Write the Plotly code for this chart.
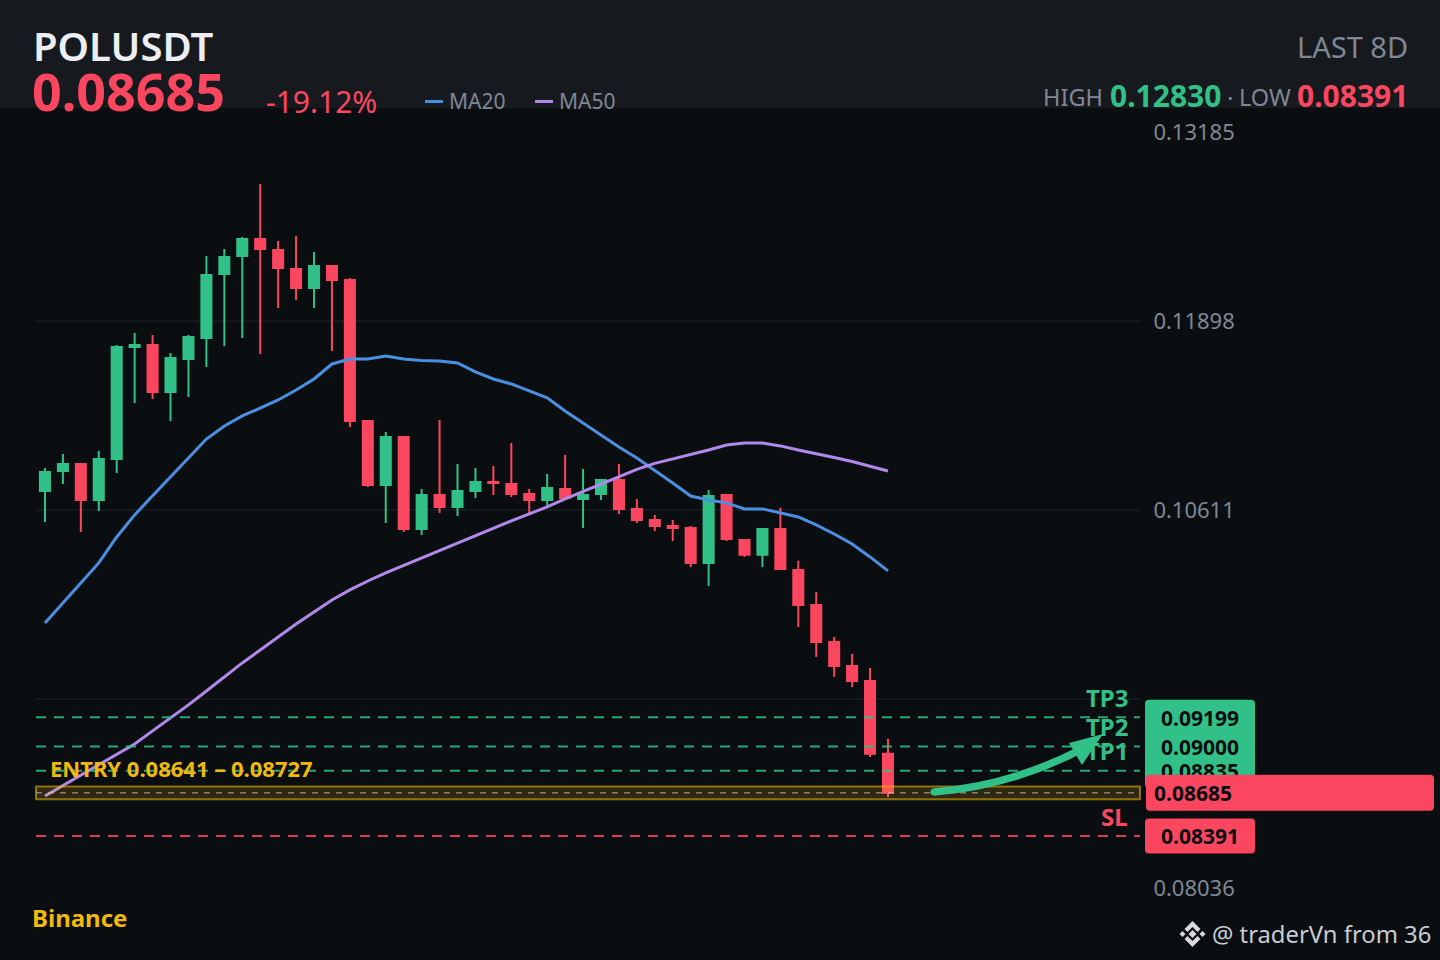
import plotly.graph_objects as go

# candle data
candle_index = list(range(48))
opens = [.10740, .10876, .10924, .10679, .10958, .11721, .11734, .11414, .11639, .11782,
         .12218, .12341, .12456, .12381, .12252, .12123, .12273, .12177, .11217, .10781,
         .11108, .10481, .10713, .10631, .10740, .10801, .10788, .10720, .10679, .10754,
         .10686, .10720, .10815, .10618, .10543, .10502, .10488, .10250, .10713, .10407,
         .10305, .10481, .10202, .09964, .09712, .09548, .09446, .08950]
highs = [.10897, .10992, .10931, .11013, .11734, .11816, .11803, .11680, .11803, .12341,
         .12388, .12470, .12830, .12443, .12477, .12368, .12279, .12191, .11224, .11142,
         .11110, .10754, .11224, .10924, .10897, .10910, .11067, .10754, .10856, .10985,
         .10890, .10822, .10924, .10686, .10577, .10543, .10502, .10747, .10720, .10413,
         .10488, .10625, .10264, .10052, .09746, .09630, .09534, .09051]
lows = [.10529, .10788, .10461, .10604, .10863, .11340, .11367, .11217, .11380, .11585,
        .11728, .11782, .11673, .11986, .12041, .11986, .11694, .11176, .10768, .10522,
        .10461, .10441, .10590, .10570, .10692, .10713, .10699, .10590, .10638, .10686,
        .10488, .10679, .10584, .10522, .10468, .10400, .10223, .10093, .10400, .10291,
        .10223, .10202, .09814, .09610, .09474, .09405, .08929, .08656]
closes = [.10870, .10924, .10679, .10958, .11721, .11734, .11414, .11646, .11789, .12211,
          .12334, .12456, .12388, .12259, .12123, .12273, .12177, .11217, .10781, .11108,
          .10481, .10713, .10631, .10740, .10801, .10795, .10720, .10679, .10761, .10692,
          .10713, .10815, .10618, .10543, .10502, .10488, .10250, .10706, .10413, .10305,
          .10481, .10209, .09964, .09712, .09548, .09446, .08950, .08685]
ma20 = [.09841, .09977, .10107, .10250, .10427, .10577, .10707, .10836, .10965, .11094,
        .11183, .11251, .11305, .11360, .11428, .11503, .11605, .11639, .11639, .11660,
        .11639, .11629, .11625, .11612, .11551, .11503, .11469, .11421, .11374, .11285,
        .11203, .11122, .11040, .10965, .10883, .10795, .10706, .10679, .10659, .10618,
        .10618, .10590, .10563, .10509, .10447, .10379, .10291, .10196]
ma50 = [.08663, .08734, .08806, .08874, .08946, .09017, .09106, .09194, .09283, .09378,
        .09474, .09569, .09657, .09746, .09834, .09916, .09998, .10066, .10127, .10182,
        .10233, .10284, .10335, .10386, .10434, .10485, .10536, .10584, .10631, .10686,
        .10737, .10788, .10836, .10887, .10928, .10958, .10985, .11019, .11053, .11067,
        .11067, .11047, .11019, .10995, .10968, .10941, .10910, .10876]

tick_vals = [.13185, .11898, .10611, .09324, .08036]
tick_text = ["0.13185", "0.11898", "0.10611", "", "0.08036"]
tp_levels = [.09199, .09000, .08835]
tp_names = ["TP3", "TP2", "TP1"]
tp_label_y = [697.5, 726.5, 750.5]
sl_level = .08391
entry_low, entry_high = .08641, .08727
last_price = .08685

W, H = 1440, 960
GREEN = "#31c087"
RED = "#fb4660"
YELLOW = "#f0b90b"
GRAY = "#7f8794"
BG = "#0b0e11"
HEADER = "#161a1f"
FONT = "Noto Sans"
PLOT_L, PLOT_R, PLOT_T, PLOT_B = 36, 1140, 132, 888


def fx(x):
    return x / W


def fy(y):
    return 1 - y / H


def price_y(p):
    return PLOT_T + (tick_vals[0] - p) / (tick_vals[0] - tick_vals[-1]) * (PLOT_B - PLOT_T)


def rounded(x0, x1, y0, y1, r=4):
    pts = [
        f"M {fx(x0 + r)} {fy(y0)}", f"L {fx(x1 - r)} {fy(y0)}",
        f"Q {fx(x1)} {fy(y0)} {fx(x1)} {fy(y0 + r)}", f"L {fx(x1)} {fy(y1 - r)}",
        f"Q {fx(x1)} {fy(y1)} {fx(x1 - r)} {fy(y1)}", f"L {fx(x0 + r)} {fy(y1)}",
        f"Q {fx(x0)} {fy(y1)} {fx(x0)} {fy(y1 - r)}", f"L {fx(x0)} {fy(y0 + r)}",
        f"Q {fx(x0)} {fy(y0)} {fx(x0 + r)} {fy(y0)}", "Z",
        # empty sliver below the pill, nudges the label down a little
        f"M {fx(x0 + r)} {fy(y1)} L {fx(x0 + r)} {fy(y1 + 3)} Z",
    ]
    return " ".join(pts)


def poly(points, color):
    path = "M " + " L ".join(f"{fx(x)} {fy(y)}" for x, y in points) + " Z"
    return dict(type="path", xref="paper", yref="paper", path=path,
                fillcolor=color, line=dict(width=0), layer="above")


fig = go.Figure()
fig.add_trace(go.Candlestick(
    x=candle_index, open=opens, high=highs, low=lows, close=closes,
    increasing=dict(line=dict(color=GREEN, width=2), fillcolor=GREEN),
    decreasing=dict(line=dict(color=RED, width=2), fillcolor=RED),
    whiskerwidth=0, showlegend=False,
))
fig.add_trace(go.Scatter(x=candle_index, y=ma20, mode="lines", name="MA20",
                         line=dict(color="#4a90e2", width=3), showlegend=False))
fig.add_trace(go.Scatter(x=candle_index, y=ma50, mode="lines", name="MA50",
                         line=dict(color="#b388eb", width=3), showlegend=False))

shapes = [dict(type="rect", xref="paper", yref="paper", x0=0, x1=1, y0=fy(108), y1=1,
               fillcolor=HEADER, line=dict(width=0), layer="below")]

# entry band and last price
shapes.append(dict(type="rect", xref="paper", yref="y", x0=fx(PLOT_L), x1=fx(PLOT_R),
                   y0=entry_low, y1=entry_high, fillcolor="rgba(240,185,11,0.16)",
                   line=dict(color="rgba(240,185,11,0.55)", width=2), layer="above"))
shapes.append(dict(type="line", xref="paper", yref="y", x0=fx(PLOT_L), x1=fx(PLOT_R),
                   y0=last_price, y1=last_price, layer="above",
                   line=dict(color="rgba(200,200,200,0.55)", width=1.5, dash="6px,6px")))
for lvl in tp_levels:
    shapes.append(dict(type="line", xref="paper", yref="y", x0=fx(PLOT_L), x1=fx(PLOT_R),
                       y0=lvl, y1=lvl, layer="above",
                       line=dict(color="rgba(49,192,135,0.85)", width=2, dash="10px,8px")))
shapes.append(dict(type="line", xref="paper", yref="y", x0=fx(PLOT_L), x1=fx(PLOT_R),
                   y0=sl_level, y1=sl_level, layer="above",
                   line=dict(color="rgba(251,70,96,0.85)", width=2, dash="10px,8px")))


def pill(price, color, x0=1145, x1=1255, half=17.5, pos="middle center", pad=3):
    c = price_y(price)
    return dict(type="path", xref="paper", yref="paper", path=rounded(x0, x1, c - half, c + half),
                fillcolor=color, line=dict(width=0), layer="above",
                label=dict(text=f"{price:.5f}", textposition=pos, padding=pad,
                           font=dict(family=FONT, size=21, color=BG, weight=700)))


# lowest TP first so the higher pills sit on top of it
for lvl in reversed(tp_levels):
    shapes.append(pill(lvl, GREEN))
shapes.append(pill(sl_level, RED))
shapes.append(pill(last_price, RED, x0=1146, x1=1434, half=18, pos="middle left", pad=5))

# arrow
shapes.append(dict(type="path", xref="paper", yref="paper", layer="above",
                   path=f"M {fx(934)} {fy(792)} Q {fx(1010)} {fy(786)} {fx(1080)} {fy(750)}",
                   line=dict(color=GREEN, width=7.5)))
shapes.append(dict(type="circle", xref="paper", yref="paper", layer="above",
                   x0=fx(930.5), x1=fx(937.5), y0=fy(788.5), y1=fy(795.5),
                   fillcolor=GREEN, line=dict(width=0)))
shapes.append(poly([(1103, 734), (1069, 743), (1082, 765)], GREEN))

# legend swatches
shapes.append(dict(type="rect", xref="paper", yref="paper", x0=fx(425), x1=fx(443), y0=fy(103), y1=fy(100),
                   fillcolor="#4a90e2", line=dict(width=0)))
shapes.append(dict(type="rect", xref="paper", yref="paper", x0=fx(535), x1=fx(553), y0=fy(103), y1=fy(100),
                   fillcolor="#b388eb", line=dict(width=0)))

# binance mark
LOGO = "#d8dade"
cx, cy = 1192.5, 934
shapes.append(poly([(cx, cy - 4), (cx + 4, cy), (cx, cy + 4), (cx - 4, cy)], LOGO))
shapes.append(poly([(cx - 13, cy), (cx - 10, cy - 3), (cx - 7, cy), (cx - 10, cy + 3)], LOGO))
shapes.append(poly([(cx + 13, cy), (cx + 10, cy - 3), (cx + 7, cy), (cx + 10, cy + 3)], LOGO))
shapes.append(poly([(cx, cy - 13), (cx + 8, cy - 5), (cx + 5, cy - 2), (cx, cy - 7), (cx - 5, cy - 2), (cx - 8, cy - 5)], LOGO))
shapes.append(poly([(cx, cy + 13), (cx + 8, cy + 5), (cx + 5, cy + 2), (cx, cy + 7), (cx - 5, cy + 2), (cx - 8, cy + 5)], LOGO))


annotations = []


def text(x, y, s, size, color, anchor="left", weight=400):
    annotations.append(dict(xref="paper", yref="paper", x=fx(x), y=fy(y), text=s, showarrow=False,
                            xanchor=anchor, yanchor="middle", borderpad=0, borderwidth=0,
                            font=dict(family=FONT, size=size, color=color, weight=weight)))


text(32.5, 45, "POLUSDT", 40, "#eceef2", weight=600)
text(32, 91, "0.08685", 52, RED, weight=700)
text(266, 101, "-19.12%", 30, RED)
text(449, 100.5, "MA20", 21, GRAY)
text(559, 100.5, "MA50", 21, GRAY)
text(1408, 46, "LAST 8D", 29, GRAY, anchor="right")
text(1043, 97, "HIGH", 23.5, GRAY)
text(1110, 95, "0.12830", 30, GREEN, weight=700)
text(1230, 97, "·", 24, GRAY, anchor="center")
text(1239, 97, "LOW", 23.5, GRAY)
text(1408, 95, "0.08391", 30, RED, anchor="right", weight=700)
for name, y in zip(tp_names, tp_label_y):
    text(1128, y, name, 24, GREEN, anchor="right", weight=700)
text(1128, 816, "SL", 24, RED, anchor="right", weight=700)
text(50, 767.5, "ENTRY 0.08641 – 0.08727", 22, YELLOW, weight=700)
text(32, 917, "Binance", 24, YELLOW, weight=700)
text(1212, 934, "@ traderVn from 36", 23.8, "#c8ccd2")

fig.update_layout(
    width=W, height=H, margin=dict(l=0, r=0, t=0, b=0, autoexpand=False),
    paper_bgcolor=BG, plot_bgcolor="rgba(0,0,0,0)",
    boxgap=0.2, showlegend=False, shapes=shapes, annotations=annotations,
    font=dict(family=FONT),
    xaxis=dict(domain=[fx(PLOT_L), fx(PLOT_R)], range=[-0.5, 61.05], visible=False,
               rangeslider=dict(visible=False)),
    yaxis=dict(domain=[fy(PLOT_B), fy(PLOT_T)], range=[tick_vals[-1], tick_vals[0]],
               side="right", tickvals=tick_vals, ticktext=tick_text, showgrid=True,
               gridcolor="#15181c", gridwidth=2, zeroline=False, showline=False,
               ticks="outside", ticklen=8, tickcolor="rgba(0,0,0,0)",
               tickfont=dict(family=FONT, size=22, color=GRAY)),
)

fig.write_html("out.html", config=dict(displayModeBar=False),
               post_script="document.body.style.margin='0';")
